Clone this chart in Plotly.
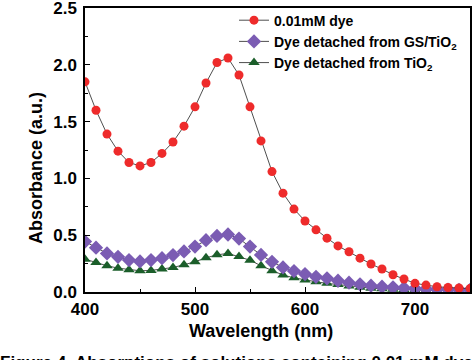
import plotly.graph_objects as go

wavelength = list(range(400, 751, 10))

dye_001mM = [1.85, 1.60, 1.39, 1.24, 1.14, 1.11, 1.14, 1.22, 1.32, 1.46,
             1.63, 1.84, 2.02, 2.06, 1.91, 1.63, 1.33, 1.06, 0.87, 0.73,
             0.625, 0.547, 0.474, 0.406, 0.354, 0.298, 0.246, 0.202, 0.152, 0.114,
             0.076, 0.061, 0.046, 0.040, 0.035, 0.030]

dye_gs_tio2 = [0.444, 0.39, 0.34, 0.31, 0.281, 0.269, 0.281, 0.298, 0.325, 0.357,
               0.40, 0.456, 0.494, 0.506, 0.47, 0.40, 0.326, 0.266, 0.216, 0.184,
               0.158, 0.134, 0.12, 0.099, 0.082, 0.068, 0.056, 0.047, 0.041, 0.035,
               0.030, 0.026, 0.023, 0.021, 0.019, 0.018]

dye_tio2 = [0.289, 0.26, 0.231, 0.21, 0.196, 0.187, 0.19, 0.202, 0.216, 0.24,
            0.266, 0.301, 0.327, 0.34, 0.313, 0.28, 0.231, 0.187, 0.149, 0.125,
            0.105, 0.09, 0.076, 0.065, 0.052, 0.042, 0.034, 0.028, 0.024, 0.020,
            0.017, 0.015, 0.013, 0.012, 0.011, 0.010]

x_ticks = [400, 500, 600, 700]
y_ticks = [0.0, 0.5, 1.0, 1.5, 2.0, 2.5]

FONT = "Liberation Sans, Arial, sans-serif"

fig = go.Figure()
fig.add_trace(go.Scatter(
    x=wavelength, y=dye_tio2, mode="lines+markers",
    name="Dye detached from TiO<sub>2</sub>", legendrank=3,
    line=dict(color="#222222", width=0.8),
    marker=dict(symbol="triangle-up", size=10, color="#1b5e2a", line=dict(width=0)),
))
fig.add_trace(go.Scatter(
    x=wavelength, y=dye_gs_tio2, mode="lines+markers",
    name="Dye detached from GS/TiO<sub>2</sub>", legendrank=2,
    line=dict(color="#222222", width=0.8),
    marker=dict(symbol="diamond", size=11, color="#7b5cb3", line=dict(width=0)),
))
fig.add_trace(go.Scatter(
    x=wavelength, y=dye_001mM, mode="lines+markers",
    name="0.01mM dye", legendrank=1,
    line=dict(color="#222222", width=0.8),
    marker=dict(symbol="circle", size=9, color="#ee2b2b", line=dict(width=0)),
))

axis_common = dict(
    showline=True, linecolor="black", linewidth=1.5, mirror=True,
    ticks="inside", ticklen=5, tickwidth=1.2, tickcolor="black",
    showgrid=False, zeroline=False, automargin=False,
    ticklabeloverflow="allow",
    tickfont=dict(family=FONT, size=17, color="black", weight="bold"),
)

fig.update_xaxes(
    range=[400, 750], tickvals=x_ticks, ticktext=[str(v) for v in x_ticks],
    ticklabelstandoff=1,
    minor=dict(ticks="inside", ticklen=3, tickwidth=1, tickcolor="black", tickvals=[450, 550, 650]),
    **axis_common,
)
fig.update_yaxes(
    range=[0, 2.5], tickvals=y_ticks, ticktext=[f"{v:.1f}" for v in y_ticks],
    ticklabelstandoff=3,
    minor=dict(ticks="inside", ticklen=3, tickwidth=1, tickcolor="black",
               tickvals=[0.25, 0.75, 1.25, 1.75, 2.25]),
    **axis_common,
)

# axis titles
fig.add_annotation(
    text="Wavelength (nm)", xref="paper", yref="paper",
    x=(261 - 85) / 385, y=-(331 - 292) / 284, xanchor="center", yanchor="middle",
    showarrow=False, font=dict(family=FONT, size=18, color="black", weight="bold"),
)
fig.add_annotation(
    text="Absorbance (a.u.)", xref="paper", yref="paper", textangle=-90,
    x=-(85 - 36) / 385, y=(292 - 168) / 284, xanchor="center", yanchor="middle",
    showarrow=False, font=dict(family=FONT, size=18, color="black", weight="bold"),
)

fig.add_annotation(
    text="Figure 4. Absorptions of solutions containing 0.01 mM dye",
    xref="paper", yref="paper", x=-87 / 385, y=-(351 - 292) / 284,
    xanchor="left", yanchor="top",
    showarrow=False, font=dict(family=FONT, size=17, color="black", weight="bold"),
)

fig.update_layout(
    width=474, height=360,
    margin=dict(l=85, r=4, t=8, b=68, autoexpand=False),
    paper_bgcolor="white", plot_bgcolor="white",
    showlegend=True,
    legend=dict(x=(234 - 85) / 385, y=1.012, xanchor="left", yanchor="top",
                bgcolor="rgba(0,0,0,0)", tracegroupgap=0, itemsizing="trace",
                font=dict(family=FONT, size=14, color="black", weight="bold")),
)

fig.write_html("out.html", config={"displayModeBar": False},
               post_script="document.body.style.margin='0';")
